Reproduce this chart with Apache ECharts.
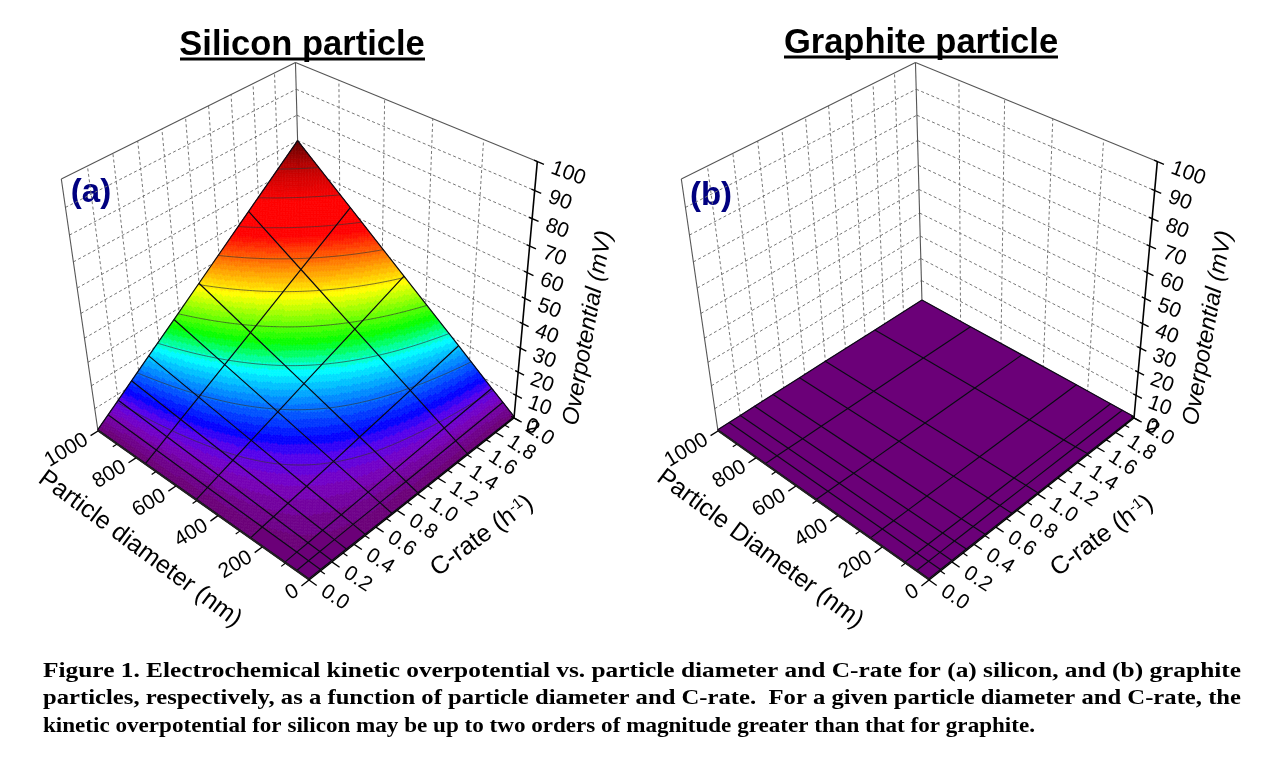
<!DOCTYPE html>
<html><head><meta charset="utf-8">
<style>html,body{margin:0;padding:0;background:#fff}#c{width:1280px;height:760px}</style>
<script src="https://cdn.jsdelivr.net/npm/echarts@6/dist/echarts.min.js"></script>
</head><body><div id="c"></div>
<script>
// ---- data ----
const meshDiameter = [0, 50, 100, 250, 500, 750, 1000];
const meshCRate = [0, 0.1, 0.2, 0.33, 0.5, 0.75, 1, 1.5, 2];
// rows follow meshCRate, columns follow meshDiameter (mV)
const siliconOverpotential = [
  [0.6, 0.6, 0.6, 0.6, 0.6, 0.6, 0.6],
  [0.6, 0.8, 1.0, 1.5, 2.3, 3.2, 4.1],
  [0.6, 1.0, 1.3, 2.3, 4.1, 5.8, 7.5],
  [0.6, 1.2, 1.8, 3.5, 6.3, 9.2, 12.1],
  [0.6, 1.5, 2.3, 4.9, 9.3, 13.6, 18.0],
  [0.6, 1.9, 3.2, 7.1, 13.6, 20.1, 26.6],
  [0.6, 2.3, 4.1, 9.3, 18.0, 26.6, 35.3],
  [0.6, 3.2, 5.8, 13.6, 26.6, 39.6, 52.7],
  [0.6, 4.1, 7.5, 18.0, 35.3, 52.7, 70.0]
];
const graphiteOverpotential = [
  [0.6, 0.6, 0.6, 0.6, 0.6, 0.6, 0.6],
  [0.6, 0.6, 0.6, 0.6, 0.6, 0.6, 0.6],
  [0.6, 0.6, 0.6, 0.6, 0.6, 0.6, 0.6],
  [0.6, 0.6, 0.6, 0.6, 0.6, 0.6, 0.7],
  [0.6, 0.6, 0.6, 0.6, 0.6, 0.7, 0.7],
  [0.6, 0.6, 0.6, 0.6, 0.7, 0.7, 0.7],
  [0.6, 0.6, 0.6, 0.6, 0.7, 0.7, 0.8],
  [0.6, 0.6, 0.6, 0.7, 0.7, 0.8, 0.8],
  [0.6, 0.6, 0.6, 0.7, 0.8, 0.8, 0.9]
];
const contourLevels = [7, 14, 21, 28, 35, 42, 49, 56, 63];
const diameterMajor = [0, 200, 400, 600, 800, 1000];
const diameterMinor = [100, 300, 500, 700, 900];
const diameterGrid = [200, 400, 600, 800];
const cRateMajor = [0, 0.2, 0.4, 0.6, 0.8, 1.0, 1.2, 1.4, 1.6, 1.8, 2.0];
const cRateMinor = [0.1, 0.3, 0.5, 0.7, 0.9, 1.1, 1.3, 1.5, 1.7, 1.9];
const cRateGrid = [0.2, 0.4, 0.6, 0.8, 1.0, 1.2, 1.4, 1.6, 1.8];
const zTicks = [0, 10, 20, 30, 40, 50, 60, 70, 80, 90, 100];
const zGrid = [10, 20, 30, 40, 50, 60, 70, 80, 90];
const captionLines = [
  'Figure 1. Electrochemical kinetic overpotential vs. particle diameter and C-rate for (a) silicon, and (b) graphite',
  'particles, respectively, as a function of particle diameter and C-rate.  For a given particle diameter and C-rate, the',
  'kinetic overpotential for silicon may be up to two orders of magnitude greater than that for graphite.'
];
const colorStops = [[0,'#680068'],[2,'#6d0085'],[5,'#7800c0'],[8,'#5000f0'],[10,'#0000ff'],[20,'#00ffff'],[25,'#00ff00'],[34,'#ffff00'],[47,'#ff0000'],[55,'#ff0000'],[63,'#c00000'],[70,'#600000']];

// ---- 3D box projection, fitted to the box corners of the picture ----
const box = {O:[309,580],L:[98,431],R:[514,418],B:[302,302],TL:[61,176],TR:[537,163],TB:[296,64]};
const proj = (function(){
  const {O,L,R,B,TL,TR,TB} = box;
  const dx1=[L[0]-B[0],L[1]-B[1]], dx2=[R[0]-B[0],R[1]-B[1]], s=[O[0]-L[0]+B[0]-R[0],O[1]-L[1]+B[1]-R[1]];
  const det=(a,b)=>a[0]*b[1]-a[1]*b[0];
  const dd=det(dx1,dx2), g=det(s,dx2)/dd, h=det(dx1,s)/dd;
  const w1=1+g, w2=1+h, w3=1+g+h;
  const A=[w1*L[0]-O[0],w1*L[1]-O[1]], Bv=[w2*R[0]-O[0],w2*R[1]-O[1]];
  const i=(w2*(TR[0]-R[0])-w1*(TL[0]-L[0]))/(TL[0]-TR[0]);
  const cOf=(w,T,F)=>[w*(T[0]-F[0])+i*T[0],w*(T[1]-F[1])+i*T[1]];
  const c1=cOf(w1,TL,L),c2=cOf(w2,TR,R),c3=cOf(w3,TB,B);
  const C=[(c1[0]+c2[0]+c3[0])/3,(c1[1]+c2[1]+c3[1])/3];
  return function(off,d,c,z){
    const u=d/1000,v=c/2,t=z/100,w=1+g*u+h*v+i*t;
    return [(A[0]*u+Bv[0]*v+C[0]*t+O[0])/w+off,(A[1]*u+Bv[1]*v+C[1]*t+O[1])/w];
  };
})();

function colorAt(z){
  const q=Math.round(z/1.1)*1.1;
  for(let k=1;k<colorStops.length;k++){
    if(q<=colorStops[k][0]){
      const a=colorStops[k-1],b=colorStops[k];
      return echarts.color.lerp((q-a[0])/(b[0]-a[0]),[a[1],b[1]]);
    }
  }
  return colorStops[colorStops.length-1][1];
}

const SANS='"Liberation Sans", Arial, sans-serif';
function lineEl(a,b,stroke,w,dash){return {type:'line',silent:true,shape:{x1:a[0],y1:a[1],x2:b[0],y2:b[1]},style:{stroke:stroke,lineWidth:w,lineDash:dash||null}};}

function wallsSeries(off){
  return {type:'custom',coordinateSystem:'cartesian2d',clip:false,silent:true,z:1,data:[[0,0]],
    renderItem(p,api){
      const P=(d,c,z)=>api.coord(proj(off,d,c,z));
      const kids=[],dash=[3,2.5],gc='#777',oc='#555';
      zGrid.forEach(z=>{kids.push(lineEl(P(1000,0,z),P(1000,2,z),gc,1,dash));kids.push(lineEl(P(1000,2,z),P(0,2,z),gc,1,dash));});
      cRateGrid.forEach(c=>kids.push(lineEl(P(1000,c,0),P(1000,c,100),gc,1,dash)));
      diameterGrid.forEach(d=>kids.push(lineEl(P(d,2,0),P(d,2,100),gc,1,dash)));
      kids.push(lineEl(P(1000,0,0),P(1000,0,100),oc,1.1));
      kids.push(lineEl(P(1000,0,100),P(1000,2,100),oc,1.1));
      kids.push(lineEl(P(1000,2,0),P(1000,2,100),oc,1.1));
      kids.push(lineEl(P(1000,2,100),P(0,2,100),oc,1.1));
      return {type:'group',children:kids};
    }};
}

function surfaceSeries(off,Z){
  const cells=[];
  for(let ic=0;ic<meshCRate.length-1;ic++)for(let id=0;id<meshDiameter.length-1;id++)cells.push([ic,id]);
  return {type:'custom',coordinateSystem:'cartesian2d',clip:false,silent:true,z:2,data:cells,
    renderItem(p,api){
      const ic=api.value(0),id=api.value(1);
      const c0=meshCRate[ic],c1=meshCRate[ic+1],d0=meshDiameter[id],d1=meshDiameter[id+1];
      const z00=Z[ic][id],z01=Z[ic][id+1],z10=Z[ic+1][id],z11=Z[ic+1][id+1];
      const at=(a,b)=>{const z=(1-a)*(1-b)*z00+(1-a)*b*z01+a*(1-b)*z10+a*b*z11;
        return {z:z,p:api.coord(proj(off,d0+(d1-d0)*b,c0+(c1-c0)*a,z))};};
      const flat=Math.max(z00,z01,z10,z11)-Math.min(z00,z01,z10,z11)<1;
      const pa=at(0,0).p,pb=at(1,0).p,pc=at(0,1).p;
      const na=flat?1:Math.max(1,Math.ceil(Math.hypot(pa[0]-pb[0],pa[1]-pb[1])/2.4));
      const nb=flat?1:Math.max(1,Math.ceil(Math.hypot(pa[0]-pc[0],pa[1]-pc[1])/2.4));
      const kids=[],lines=[];
      for(let i=0;i<na;i++)for(let j=0;j<nb;j++){
        const q=[at(i/na,j/nb),at((i+1)/na,j/nb),at((i+1)/na,(j+1)/nb),at(i/na,(j+1)/nb)];
        const col=colorAt((q[0].z+q[1].z+q[2].z+q[3].z)/4);
        kids.push({type:'polygon',silent:true,shape:{points:q.map(o=>o.p)},style:{fill:col,stroke:col,lineWidth:0.7}});
        const zs=q.map(o=>o.z),lo=Math.min(...zs),hi=Math.max(...zs);
        contourLevels.forEach(L=>{
          if(L<=lo||L>hi)return;
          const pts=[];
          for(let e=0;e<4;e++){
            const a=q[e],b=q[(e+1)%4];
            if((a.z<L)!==(b.z<L)){const f=(L-a.z)/(b.z-a.z);pts.push([a.p[0]+(b.p[0]-a.p[0])*f,a.p[1]+(b.p[1]-a.p[1])*f]);}
          }
          if(pts.length>=2)lines.push(lineEl(pts[0],pts[1],'rgba(50,50,50,0.65)',1));
        });
      }
      return {type:'group',children:kids.concat(lines)};
    }};
}

function meshSeries(off,Z){
  return {type:'custom',coordinateSystem:'cartesian2d',clip:false,silent:true,z:3,data:[[0,0]],
    renderItem(p,api){
      const kids=[];
      const poly=(pts,w,col)=>kids.push({type:'polyline',silent:true,shape:{points:pts},style:{stroke:col||'#0a0a14',lineWidth:w,fill:null}});
      meshCRate.forEach((c,i)=>poly(meshDiameter.map((d,j)=>api.coord(proj(off,d,c,Z[i][j]))),1.2));
      meshDiameter.forEach((d,j)=>poly(meshCRate.map((c,i)=>api.coord(proj(off,d,c,Z[i][j]))),1.2));
      // dark side of the surface along the zero C-rate edge
      const side=meshDiameter.map((d,j)=>api.coord(proj(off,d,0,Z[0][j]))).concat(meshDiameter.slice().reverse().map(d=>api.coord(proj(off,d,0,0))));
      kids.push({type:'polygon',silent:true,shape:{points:side},style:{fill:'#2a0a2a',stroke:'#222',lineWidth:0.8}});
      return {type:'group',children:kids};
    }};
}

function axesSeries(off,dTitle){
  return {type:'custom',coordinateSystem:'cartesian2d',clip:false,silent:true,z:4,data:[[0,0]],
    renderItem(p,api){
      const P=(d,c,z)=>api.coord(proj(off,d,c,z));
      const kids=[];
      const tx=(text,pt,rot,size,align,extra)=>kids.push(Object.assign({type:'text',silent:true,x:pt[0],y:pt[1],rotation:rot*Math.PI/180,
        style:Object.assign({text:text,fontFamily:SANS,fontSize:size,fill:'#000',align:align,verticalAlign:'middle'},extra||{})}));
      kids.push(lineEl(P(0,0,0),P(1000,0,0),'#222',1.2));
      kids.push(lineEl(P(0,0,0),P(0,2,0),'#000',1.5));
      kids.push(lineEl(P(0,2,0),P(0,2,100),'#000',1.6));
      diameterMajor.forEach(d=>{kids.push(lineEl(P(d,0,0),P(d,-0.065,0),'#000',1.4));
        tx(String(d),P(d,-0.1,0),31,21,'right');});
      diameterMinor.forEach(d=>kids.push(lineEl(P(d,0,0),P(d,-0.035,0),'#000',1.2)));
      cRateMajor.forEach(c=>{kids.push(lineEl(P(-32,c,0),P(0,c,0),'#000',1.4));
        const q=P(-56,c,0);tx(c.toFixed(1),[q[0],q[1]],-33,21,'left');});
      cRateMinor.forEach(c=>kids.push(lineEl(P(-18,c,0),P(0,c,0),'#000',1.2)));
      zTicks.forEach(z=>{kids.push(lineEl(P(12,2,z),P(-24,2,z),'#000',1.4));
        const q=P(-52,2,z);tx(String(z),[q[0],q[1]],-20,21,'left');});
      // axis titles
      tx(dTitle,[140+off,549],-36.5,25,'center');
      tx('C-rate (h{s|-1})',[482+off,536],36,25,'center',{rich:{s:{fontFamily:SANS,fontSize:15,verticalAlign:'top',fill:'#000'}}});
      tx('Overpotential (mV)',[588+off,328],80,23.5,'center',{fontStyle:'italic'});
      return {type:'group',children:kids};
    }};
}

// caption, titles and panel tags
const measure=document.createElement('canvas').getContext('2d');
const capFont='bold 21.5px "Liberation Serif", "Times New Roman", serif';
measure.font=capFont;
const captionWidths=[1198,1198,992], captionY=[671,698,726];
const graphic=[];
captionLines.forEach((t,i)=>{
  graphic.push({type:'text',silent:true,x:43,y:captionY[i],scaleX:captionWidths[i]/measure.measureText(t).width,
    style:{text:t,font:capFont,fill:'#000',textAlign:'left',textVerticalAlign:'middle'}});
});
function title(t,cx,cy,x0,x1,uy){
  graphic.push({type:'text',silent:true,x:cx,y:cy,style:{text:t,font:'bold 34.5px '+SANS,fill:'#000',textAlign:'center',textVerticalAlign:'middle'}});
  graphic.push({type:'line',silent:true,shape:{x1:x0,y1:uy,x2:x1,y2:uy},style:{stroke:'#000',lineWidth:3}});
}
title('Silicon particle',302,45,180,425,59);
title('Graphite particle',921,43,784,1058,57);
graphic.push({type:'text',silent:true,x:91,y:193,style:{text:'(a)',font:'bold 33px '+SANS,fill:'#000080',textAlign:'center',textVerticalAlign:'middle'}});
graphic.push({type:'text',silent:true,x:711,y:196,style:{text:'(b)',font:'bold 33px '+SANS,fill:'#000080',textAlign:'center',textVerticalAlign:'middle'}});

const chart=echarts.init(document.getElementById('c'),null,{renderer:'canvas'});
chart.setOption({
  animation:false,backgroundColor:'#fff',
  grid:{left:0,right:0,top:0,bottom:0},
  xAxis:{type:'value',min:0,max:1280,show:false},
  yAxis:{type:'value',min:0,max:760,inverse:true,show:false},
  graphic:{elements:graphic},
  series:[
    wallsSeries(0),surfaceSeries(0,siliconOverpotential),meshSeries(0,siliconOverpotential),axesSeries(0,'Particle diameter (nm)'),
    wallsSeries(620),surfaceSeries(620,graphiteOverpotential),meshSeries(620,graphiteOverpotential),axesSeries(620,'Particle Diameter (nm)')
  ]
});
</script></body></html>
